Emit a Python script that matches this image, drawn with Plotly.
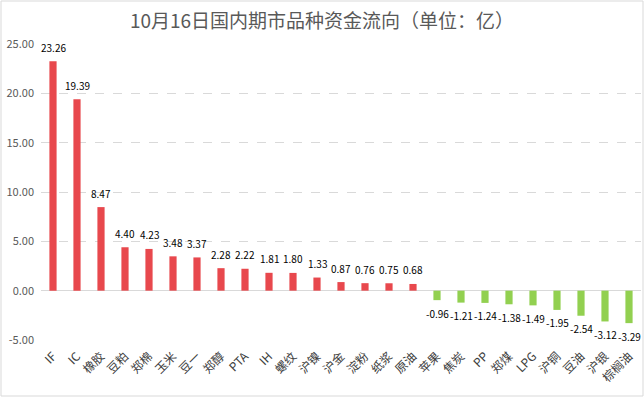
import plotly.graph_objects as go

categories = ["IF", "IC", "橡胶", "豆粕", "郑棉", "玉米", "豆一", "郑醇", "PTA", "IH", "螺纹", "沪镍",
              "沪金", "淀粉", "纸浆", "原油", "苹果", "焦炭", "PP", "郑煤", "LPG", "沪铜", "豆油", "沪银", "棕榈油"]
values = [23.26, 19.39, 8.47, 4.40, 4.23, 3.48, 3.37, 2.28, 2.22, 1.81, 1.80, 1.33,
          0.87, 0.76, 0.75, 0.68, -0.96, -1.21, -1.24, -1.38, -1.49, -1.95, -2.54, -3.12, -3.29]
y_ticks = [-5, 0, 5, 10, 15, 20, 25]

colors = ["#E8484D" if v >= 0 else "#92D050" for v in values]

W, H = 644, 397
L, R, T, B = 41, 3, 44, 57
pw, ph = W - L - R, H - T - B

fig = go.Figure(go.Bar(
    x=categories, y=values, marker_color=colors, marker_line_width=0,
    width=0.3, hoverinfo="x+y",
))

annotations = [
    dict(x=c, y=v, xref="x", yref="y", text=f"{v:.2f}", showarrow=False,
         yanchor="middle", yshift=14 if v >= 0 else -13,
         font=dict(size=10, color="#000000", family="Noto Sans CJK SC"))
    for c, v in zip(categories, values)
]

fig.update_layout(
    width=W, height=H,
    margin=dict(l=L, r=R, t=T, b=B),
    paper_bgcolor="white", plot_bgcolor="white",
    font=dict(family="Noto Sans CJK SC", color="#595959"),
    title=dict(text="10月16日国内期市品种资金流向（单位：亿）", x=0.5, xref="container",
               xanchor="center", y=1 - 21 / H, yanchor="middle",
               font=dict(size=19, color="#595959")),
    showlegend=False,
    annotations=annotations,
    xaxis=dict(tickangle=-45, tickfont=dict(size=12, color="#404040"), showgrid=False,
               showline=False, ticks="", range=[-0.5, 24.5], ticklabelstandoff=6,
               automargin=False),
    yaxis=dict(range=[-5, 25], tickvals=y_ticks, ticktext=[f"{v:.2f}" for v in y_ticks],
               tickfont=dict(size=11, color="#595959"), showgrid=True, gridcolor="#D9D9D9",
               griddash="dash", gridwidth=1, zeroline=True, zerolinecolor="#D9D9D9",
               zerolinewidth=1, showline=False, ticks="", ticklabelstandoff=6,
               automargin=False),
    shapes=[dict(type="rect", xref="paper", yref="paper",
                 x0=(1 - L) / pw, x1=(W - 1 - L) / pw,
                 y0=-(H - 1 - T - ph) / ph, y1=1 + (T - 1) / ph,
                 line=dict(color="#D9D9D9", width=1))],
)

fig.write_html("out.html", config={"displayModeBar": False},
               post_script="document.body.style.margin='0';")
